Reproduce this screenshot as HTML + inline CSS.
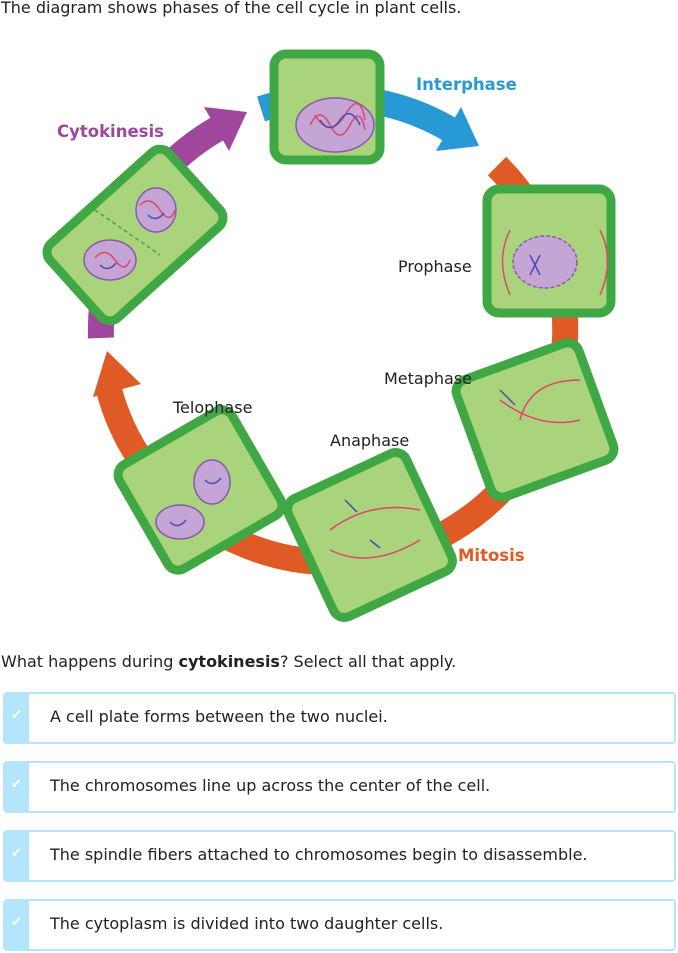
<!DOCTYPE html>
<html><head><style>
body{margin:0;width:678px;height:953px;background:#fff;font-family:"DejaVu Sans","Liberation Sans",sans-serif;color:#222;position:relative;overflow:hidden}
.t{position:absolute;font-size:16px;white-space:nowrap}
.opt{position:absolute;left:3px;width:669px;height:48px;border:2px solid #b3e6fa;border-radius:4px;background:#fff}
.opt .s{position:absolute;left:0;top:0;width:24px;height:48px;background:#b3e6fa}
.opt .s:after{content:"✔";position:absolute;left:6px;top:14px;color:#fff;font-size:13px}
.opt span{position:absolute;left:45px;top:13px;font-size:16px}
</style></head><body>
<div class="t" style="left:1px;top:-2px">The diagram shows phases of the cell cycle in plant cells.</div>
<svg width="678" height="640" style="position:absolute;left:0;top:0" font-family="DejaVu Sans, Liberation Sans, sans-serif">
<path d="M497,166 A232,232 0 1 1 109,390" fill="none" stroke="#e05a25" stroke-width="26"/>
<polygon points="133,384 85,397 99,351" fill="#e05a25" transform="translate(8,0)"/>
<path d="M101,338 A232,232 0 0 1 217,129" fill="none" stroke="#a0479d" stroke-width="26"/>
<polygon points="229,151 204,107 247,112" fill="#a0479d"/>
<path d="M261,109 A232,232 0 0 1 449,129" fill="none" stroke="#279ad6" stroke-width="26"/>
<polygon points="436,151 461,107 479,146" fill="#279ad6"/>
<g stroke="#3fa845" stroke-width="9" fill="#a9d47b">
<rect x="274" y="54" width="106" height="106" rx="12"/>
<rect x="487" y="189" width="124" height="124" rx="12"/>
<rect x="470" y="358" width="130" height="124" rx="12" transform="rotate(-20 535 420)"/>
<rect x="305" y="470" width="130" height="130" rx="12" transform="rotate(-25 370 535)"/>
<rect x="135" y="430" width="130" height="120" rx="12" transform="rotate(-30 200 490)"/>
<rect x="55" y="185" width="160" height="100" rx="12" transform="rotate(-42 135 235)"/>
</g>
<g fill="#c4a5d6" stroke="#8b5aa8" stroke-width="1.5">
<ellipse cx="335" cy="125" rx="39" ry="27"/>
<ellipse cx="545" cy="262" rx="32" ry="26" stroke-dasharray="4 2"/>
<ellipse cx="212" cy="482" rx="18" ry="22"/>
<ellipse cx="180" cy="522" rx="24" ry="17"/>
<ellipse cx="156" cy="210" rx="20" ry="22"/>
<ellipse cx="110" cy="260" rx="26" ry="20"/>
</g>
<g fill="none" stroke="#e0446b" stroke-width="1.5">
<path d="M310,125 q10,-20 20,0 t20,0 t15,5 M315,115 q15,25 30,0 t20,5"/>
<path d="M140,205 q10,-10 20,5 t15,0 M95,258 q10,-12 20,2 t15,0"/>
<path d="M510,230 q-15,30 0,65 M600,230 q15,30 0,65 M520,420 q10,-40 60,-40 M500,400 q40,30 80,20 M330,530 q40,-30 90,-20 M330,550 q40,20 90,-10"/>
</g>
<g fill="none" stroke="#4a4bb0" stroke-width="1.5">
<path d="M320,120 q10,15 20,0 t20,5 M148,215 q8,8 16,-2 M100,265 q8,8 16,-2 M205,480 q8,8 16,-2 M170,522 q8,8 16,-2"/>
<path d="M530,255 l10,20 M540,255 l-10,20 M500,390 l15,15 M345,500 l12,12 M370,540 l10,8"/>
</g>
<g stroke="#3fa845" stroke-width="1.5" stroke-dasharray="4 3" fill="none"><path d="M95,210 L160,255"/></g>
<g font-size="16.5" font-weight="bold">
<text x="416" y="90" fill="#279ad6">Interphase</text>
<text x="57" y="137" fill="#a0479d">Cytokinesis</text>
<text x="458" y="561" fill="#e05a25">Mitosis</text>
</g>
<g font-size="16" fill="#222">
<text x="398" y="272">Prophase</text>
<text x="384" y="384">Metaphase</text>
<text x="330" y="446">Anaphase</text>
<text x="173" y="413">Telophase</text>
</g>
</svg>
<div class="t" style="left:1px;top:652px">What happens during <b>cytokinesis</b>? Select all that apply.</div>
<div class="opt" style="top:692px"><div class="s"></div><span>A cell plate forms between the two nuclei.</span></div>
<div class="opt" style="top:761px"><div class="s"></div><span>The chromosomes line up across the center of the cell.</span></div>
<div class="opt" style="top:830px"><div class="s"></div><span>The spindle fibers attached to chromosomes begin to disassemble.</span></div>
<div class="opt" style="top:899px"><div class="s"></div><span>The cytoplasm is divided into two daughter cells.</span></div>
</body></html>
